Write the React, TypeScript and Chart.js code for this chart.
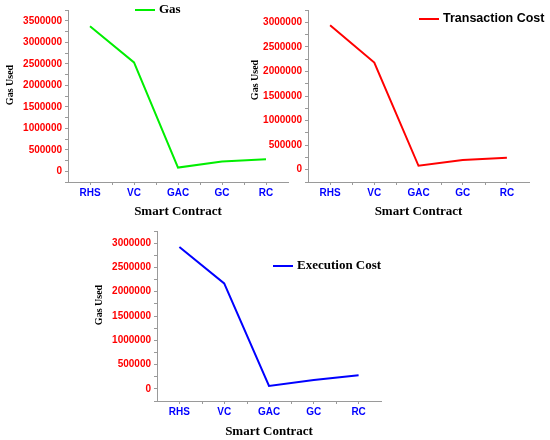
import React, { useEffect, useRef } from "react";
import { Chart, registerables } from "chart.js";

Chart.register(...registerables);

// ---------- data ----------
const categories = ["RHS", "VC", "GAC", "GC", "RC"];
const gasValues = [3370000, 2530000, 85000, 225000, 280000];
const transactionValues = [2940000, 2180000, 80000, 200000, 245000];
const executionValues = [2920000, 2170000, 60000, 180000, 280000];
const gasAxisRange = [-250000, 3750000];
const costAxisRange = [-250000, 3250000];
const yTickStep = 250000;
const yLabelStep = 500000;
const yAxisTitle = "Gas Used";
const xAxisTitle = "Smart Contract";

// ---------- styles / layout ----------
const AXIS = "#9a9a9a";
const SANS = '"Liberation Sans", Arial, sans-serif';
const SERIF = '"Liberation Serif", "Times New Roman", serif';

type Panel = {
  label: string;
  values: number[];
  color: string;
  range: number[];
  box: { left: number; top: number; width: number; height: number };
  padTop: number;
  padRight: number;
  yWidth: number;
  xHeight: number;
  xTitlePad: number;
  yTitle: { x: number; y: number };
  legend: { x: number; y: number; font: string };
};

const panels: Panel[] = [
  {
    label: "Gas",
    values: gasValues,
    color: "#00ee00",
    range: gasAxisRange,
    box: { left: 0, top: 0, width: 292, height: 222 },
    padTop: 10,
    padRight: 4,
    yWidth: 68,
    xHeight: 40,
    xTitlePad: 3,
    yTitle: { x: 10, y: 85 },
    legend: { x: 135, y: 10, font: `bold 13px ${SERIF}` },
  },
  {
    label: "Transaction Cost",
    values: transactionValues,
    color: "#ff0000",
    range: costAxisRange,
    box: { left: 250, top: 0, width: 300, height: 222 },
    padTop: 10,
    padRight: 21,
    yWidth: 58,
    xHeight: 40,
    xTitlePad: 3,
    yTitle: { x: 5, y: 80 },
    legend: { x: 169, y: 19, font: `bold 12.5px ${SANS}` },
  },
  {
    label: "Execution Cost",
    values: executionValues,
    color: "#0000ff",
    range: costAxisRange,
    box: { left: 90, top: 222, width: 300, height: 218 },
    padTop: 7,
    padRight: 9,
    yWidth: 67,
    xHeight: 39,
    xTitlePad: 1,
    yTitle: { x: 9, y: 83 },
    legend: { x: 183, y: 44, font: `bold 13px ${SERIF}` },
  },
];

function decorPlugin(p: Panel) {
  return {
    id: "decor",
    afterDraw(chart: any) {
      const ctx = chart.ctx as CanvasRenderingContext2D;
      const { bottom } = chart.chartArea;
      const xs = chart.scales.x;
      ctx.save();
      // minor ticks between categories
      ctx.strokeStyle = AXIS;
      ctx.lineWidth = 1;
      for (let i = 0; i < categories.length - 1; i++) {
        const x =
          Math.round((xs.getPixelForValue(i) + xs.getPixelForValue(i + 1)) / 2) + 0.5;
        ctx.beginPath();
        ctx.moveTo(x, bottom);
        ctx.lineTo(x, bottom + 3);
        ctx.stroke();
      }
      // y axis title
      ctx.save();
      ctx.translate(p.yTitle.x, p.yTitle.y);
      ctx.rotate(-Math.PI / 2);
      ctx.font = `bold 10px ${SERIF}`;
      ctx.fillStyle = "#000";
      ctx.textAlign = "center";
      ctx.textBaseline = "middle";
      ctx.fillText(yAxisTitle, 0, 0);
      ctx.restore();
      // legend
      const ds = chart.data.datasets[0];
      ctx.strokeStyle = ds.borderColor;
      ctx.lineWidth = 2;
      ctx.beginPath();
      ctx.moveTo(p.legend.x, p.legend.y);
      ctx.lineTo(p.legend.x + 20, p.legend.y);
      ctx.stroke();
      ctx.font = p.legend.font;
      ctx.fillStyle = "#000";
      ctx.textAlign = "left";
      ctx.textBaseline = "middle";
      ctx.fillText(ds.label, p.legend.x + 24, p.legend.y);
      ctx.restore();
    },
  };
}

function LinePanel({ p }: { p: Panel }) {
  const ref = useRef<HTMLCanvasElement | null>(null);
  useEffect(() => {
    if (!ref.current) return;
    const chart = new Chart(ref.current, {
      type: "line",
      data: {
        labels: categories,
        datasets: [
          {
            label: p.label,
            data: p.values,
            borderColor: p.color,
            backgroundColor: p.color,
            borderWidth: 2,
            pointRadius: 0,
            tension: 0,
            fill: false,
          },
        ],
      },
      options: {
        animation: false,
        responsive: false,
        layout: { padding: { top: p.padTop, right: p.padRight, left: 0, bottom: 0 } },
        plugins: { legend: { display: false }, tooltip: { enabled: false } },
        scales: {
          x: {
            offset: true,
            grid: {
              display: true,
              drawOnChartArea: false,
              tickLength: 3,
              color: AXIS,
              offset: false,
            },
            border: { color: AXIS },
            ticks: {
              color: "#0000ff",
              font: { family: SANS, weight: "bold", size: 10 },
              padding: 2,
              maxRotation: 0,
              autoSkip: false,
            },
            title: {
              display: true,
              text: xAxisTitle,
              color: "#000",
              font: { family: SERIF, weight: "bold", size: 13 },
              padding: { top: 0, bottom: p.xTitlePad },
            },
            afterFit: (s: any) => {
              s.height = p.xHeight;
            },
          },
          y: {
            min: p.range[0],
            max: p.range[1],
            grid: { drawOnChartArea: false, tickLength: 3, color: AXIS },
            border: { color: AXIS },
            ticks: {
              stepSize: yTickStep,
              autoSkip: false,
              color: "#ff0000",
              font: { family: SANS, weight: "bold", size: 10 },
              padding: 3,
              callback: (v: any) => (Number(v) % yLabelStep === 0 ? String(v) : ""),
            },
            afterFit: (s: any) => {
              s.width = p.yWidth;
            },
          },
        },
      } as any,
      plugins: [decorPlugin(p)],
    });
    return () => chart.destroy();
  }, [p]);
  return (
    <canvas
      ref={ref}
      width={p.box.width}
      height={p.box.height}
      style={{
        position: "absolute",
        left: p.box.left,
        top: p.box.top,
        width: p.box.width,
        height: p.box.height,
      }}
    />
  );
}

export default function App() {
  return (
    <div
      style={{
        position: "absolute",
        left: 0,
        top: 0,
        width: 550,
        height: 440,
        background: "#fff",
        overflow: "hidden",
      }}
    >
      {panels.map((p) => (
        <LinePanel key={p.label} p={p} />
      ))}
    </div>
  );
}
